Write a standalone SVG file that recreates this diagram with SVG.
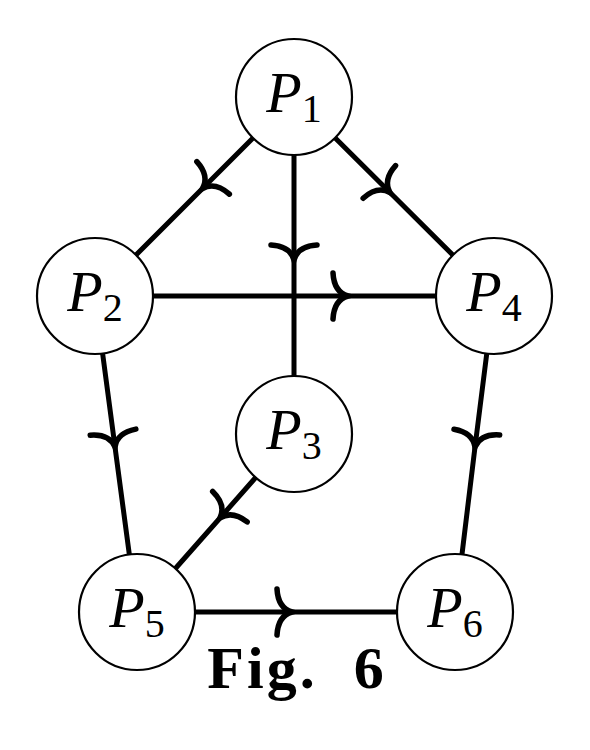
<svg xmlns="http://www.w3.org/2000/svg" width="590" height="750" viewBox="0 0 590 750">
<style>
.edge{fill:none;stroke:#000;stroke-width:5;marker-mid:url(#arr)}
.node circle{fill:#fff;stroke:#000;stroke-width:2.2}
.lbl{font-family:"Liberation Serif","DejaVu Serif",serif;font-size:58px;fill:#000}
.lbl .v{font-style:italic}
.lbl .s{font-size:40px}
.cap{font-family:"Liberation Serif","DejaVu Serif",serif;font-size:60px;font-weight:bold;letter-spacing:3px;fill:#000}
</style>
<defs>
<marker id="arr" markerUnits="userSpaceOnUse" viewBox="-20 -30 30 60" refX="0" refY="0" markerWidth="30" markerHeight="60" orient="auto" overflow="visible">
<path d="M -15,-23 Q -14,-4 0,0 Q -14,4 -15,23" fill="none" stroke="#000" stroke-width="5.5" stroke-linecap="round"/>
</marker>
</defs>
<g id="connectors">
<path class="edge" d="M294,97 L202.5,188.5 L95,296"/>
<path class="edge" d="M294,97 L390,192.5 L494,296"/>
<path class="edge" d="M95,296 L348,296 L494,296"/>
<path class="edge" d="M294,97 L294,260 L294,434"/>
<path class="edge" d="M95,296 L115,447 L137,612"/>
<path class="edge" d="M494,296 L475,447 L455,612"/>
<path class="edge" d="M294,434 L220,518 L137,612"/>
<path class="edge" d="M137,612 L292,612 L455,612"/>
</g>
<g id="P1" class="node"><circle cx="294" cy="97" r="58"/><text class="lbl" x="294" y="112" text-anchor="middle"><tspan class="v">P</tspan><tspan class="s" dy="10">1</tspan></text></g>
<g id="P2" class="node"><circle cx="95" cy="296" r="58"/><text class="lbl" x="95" y="311" text-anchor="middle"><tspan class="v">P</tspan><tspan class="s" dy="10">2</tspan></text></g>
<g id="P3" class="node"><circle cx="294" cy="434" r="58"/><text class="lbl" x="294" y="449" text-anchor="middle"><tspan class="v">P</tspan><tspan class="s" dy="10">3</tspan></text></g>
<g id="P4" class="node"><circle cx="494" cy="296" r="58"/><text class="lbl" x="494" y="311" text-anchor="middle"><tspan class="v">P</tspan><tspan class="s" dy="10">4</tspan></text></g>
<g id="P5" class="node"><circle cx="137" cy="612" r="58"/><text class="lbl" x="137" y="627" text-anchor="middle"><tspan class="v">P</tspan><tspan class="s" dy="10">5</tspan></text></g>
<g id="P6" class="node"><circle cx="455" cy="612" r="58"/><text class="lbl" x="455" y="627" text-anchor="middle"><tspan class="v">P</tspan><tspan class="s" dy="10">6</tspan></text></g>
<text class="cap" x="297" y="688" text-anchor="middle" xml:space="preserve">Fig.  6</text>
</svg>
